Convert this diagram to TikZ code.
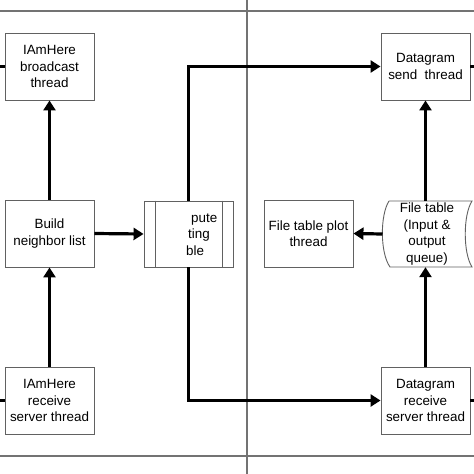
\documentclass[tikz,border=0pt]{standalone}
\usepackage{fontspec}
\setmainfont{Liberation Sans}
\usetikzlibrary{arrows.meta}
\begin{document}
\begin{tikzpicture}[x=1pt,y=-1pt,
  boxnode/.style={draw=black!62,line width=0.9pt,minimum width=89pt,minimum height=67pt,
    align=center,inner sep=0pt,font=\fontsize{13.4}{16.3}\selectfont},
  txt/.style={align=center,inner sep=0pt,font=\fontsize{13.4}{16.6}\selectfont},
  arr/.style={line width=3.2pt,-{Triangle[length=10pt,width=12pt]}},
  stub/.style={line width=3.2pt},
  divider/.style={draw=black!55,line width=1.2pt}]
\useasboundingbox (0,0) rectangle (474,474);
% dividers
\draw[divider] (0,11) -- (474,11);
\draw[divider] (0,456) -- (474,456);
\draw[divider] (247,0) -- (247,474);
% boxes
\node[boxnode] (bcast) at (49.5,66.5) {IAmHere\\broadcast\\thread};
\node[boxnode] (build) at (49.5,233.5) {Build\\neighbor list};
\node[boxnode] (recv) at (49.5,400.5) {IAmHere\\receive\\server thread};
\node[boxnode] (dsend) at (425.5,66.5) {Datagram\\send\ \ thread};
\node[boxnode] (drecv) at (425.5,400.5) {Datagram\\receive\\server thread};
\node[boxnode] (fplot) at (308.5,233.5) {File table plot\\thread};
% predefined process box
\node[draw=black!62,line width=0.9pt,minimum width=89pt,minimum height=66pt,inner sep=0pt] (proc) at (188.5,234) {};
\draw[black!62,line width=0.9pt] ([xshift=11.5pt]proc.north west) -- ([xshift=11.5pt]proc.south west);
\draw[black!62,line width=0.9pt] ([xshift=-11.5pt]proc.north east) -- ([xshift=-11.5pt]proc.south east);
\node[txt,align=left,anchor=west] (proctext) at (186,234.5) {\hspace*{5pt}pute\\\hspace*{2pt}ting\\ble};
% stored data shape
\node[txt,minimum width=86pt,minimum height=66pt] (ft) at (427,234) {File table\\(Input \&\\output\\queue)};
\draw[black!62,line width=0.9pt] (389,201) -- (472,201)
  .. controls (463,215) and (463,253) .. (472,267) -- (390,267)
  .. controls (380,253) and (380,215) .. (389,201);
\coordinate (ftleft) at (382.5,234);
% connectors
\draw[arr] (build.north) -- (bcast.south);
\draw[arr] (recv.north) -- (build.south);
\draw[arr] (build.east) -- (proc.west);
\draw[arr] (proc.north) |- (dsend.west);
\draw[arr] (proc.south) |- (drecv.west);
\draw[arr] (ftleft) -- (fplot.east);
\draw[arr] (drecv.north) -- (drecv.north |- ft.south);
\draw[arr] (dsend.south |- ft.north) -- (dsend.south);
% stubs leaving the picture
\coordinate (l1) at (0,66.5);
\coordinate (l2) at (0,400.5);
\coordinate (r1) at (474,66.5);
\coordinate (r2) at (474,400.5);
\draw[stub] (bcast.west) -- (l1);
\draw[stub] (recv.west) -- (l2);
\draw[stub] (dsend.east) -- (r1);
\draw[stub] (drecv.east) -- (r2);
\end{tikzpicture}
\end{document}
